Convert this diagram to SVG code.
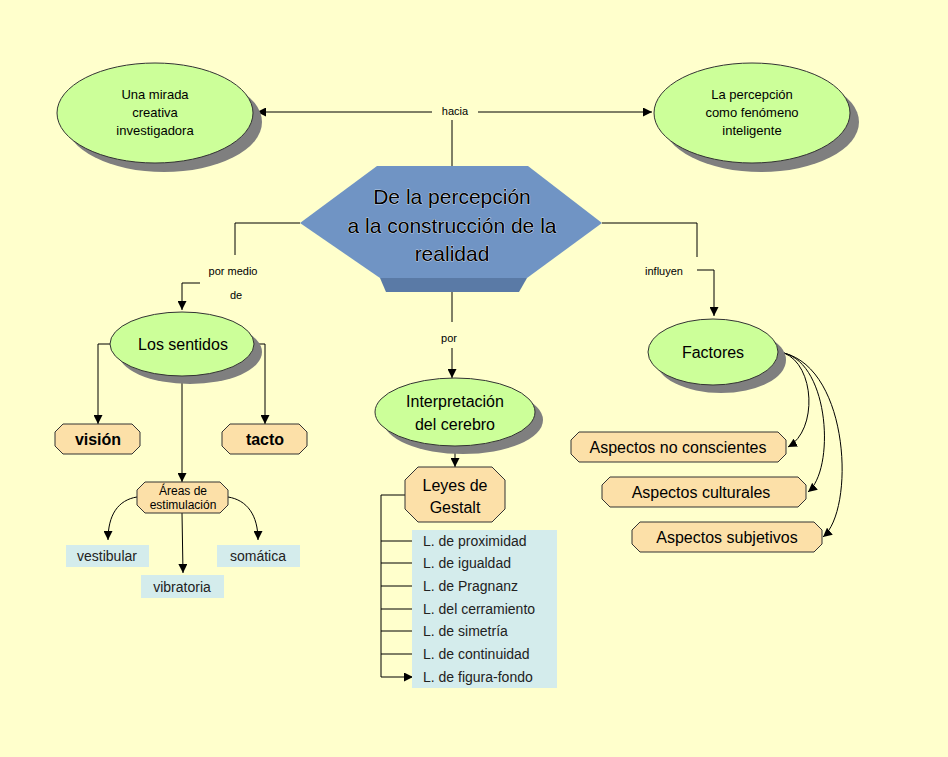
<svg xmlns="http://www.w3.org/2000/svg" width="948" height="757" viewBox="0 0 948 757">
<defs>
<marker id="ah" viewBox="0 0 10 10" refX="10" refY="5" markerWidth="9" markerHeight="9" orient="auto" markerUnits="userSpaceOnUse"><path d="M0,0 L10,5 L0,10 z" fill="#000"/></marker>
</defs>
<style>
text{font-family:"Liberation Sans",Arial,sans-serif;fill:#000;text-anchor:middle}
.ell{fill:#CCFF99;stroke:#333;stroke-width:1}
.sh{fill:#7F7F7F}
.oct{fill:#FCE0A8;stroke:#333;stroke-width:1}
.box{fill:#D4ECEC}
.c{fill:none;stroke:#000;stroke-width:1}
.a{marker-end:url(#ah)}
.lbl{font-size:11px}
.t13{font-size:13px}
.t16{font-size:16px}
.t15{font-size:15px}
.bl{font-size:14px;text-anchor:start;fill:#222}
.bx{font-size:14px;fill:#222}
</style>
<rect width="948" height="757" fill="#FFFFCC"/>
<g id="connectors">
<path class="c a" d="M432,112 H257"/>
<path class="c a" d="M478,112 H652"/>
<path class="c" d="M452,166 V120"/>
<path class="c" d="M300,223 H235 V255"/>
<path class="c a" d="M200,283 H182 V310"/>
<path class="c a" d="M110,344 H98 V424"/>
<path class="c a" d="M254,344 H265 V424"/>
<path class="c a" d="M182,377 V482"/>
<path class="c a" d="M137,497 C118,500 108,515 108,540"/>
<path class="c a" d="M182,513 L183,573"/>
<path class="c a" d="M228,497 C247,500 258,515 258,540"/>
<path class="c" d="M452,292 V322"/>
<path class="c a" d="M452,348 V378"/>
<path class="c a" d="M455,446 V467"/>
<path class="c" d="M405,495 H381 V677"/>
<path class="c a" d="M381,541 H413 M381,563 H413 M381,586 H413 M381,609 H413 M381,631 H413 M381,654 H413 M381,677 H413"/>
<path class="c" d="M602,223 H697 V257"/>
<path class="c a" d="M697,270 H714 V316"/>
<path class="c a" d="M784,353 C815,365 818,430 788,447"/>
<path class="c a" d="M784,353 C830,365 835,470 808,492"/>
<path class="c a" d="M784,353 C850,370 855,510 823,537"/>
</g>
<g id="labels">
<rect x="434" y="104" width="42" height="15" fill="#FFFFCC"/>
<text class="lbl" x="455" y="115">hacia</text>
<text class="lbl" x="233" y="275">por medio</text>
<text class="lbl" x="236" y="299">de</text>
<text class="lbl" x="449" y="342">por</text>
<text class="lbl" x="664" y="275">influyen</text>
</g>
<g id="n-mirada">
<ellipse class="sh" cx="164" cy="122" rx="98" ry="50"/>
<ellipse class="ell" cx="155" cy="113" rx="98" ry="50"/>
<text class="t13" x="155" y="99">Una mirada</text>
<text class="t13" x="155" y="117">creativa</text>
<text class="t13" x="155" y="135">investigadora</text>
</g>
<g id="n-fenomeno">
<ellipse class="sh" cx="761" cy="122" rx="98" ry="50"/>
<ellipse class="ell" cx="752" cy="113" rx="98" ry="50"/>
<text class="t13" x="752" y="99">La percepción</text>
<text class="t13" x="752" y="117">como fenómeno</text>
<text class="t13" x="752" y="135">inteligente</text>
</g>
<g id="n-central">
<polygon points="300,223 377,166 528,166 602,223 527,278 380,278" fill="#7094C4"/>
<polygon points="380,278 527,278 519,292 386,292" fill="#5A7AA6"/>
<text x="452" y="204" style="font-size:21px;stroke:#fff;stroke-width:0.6;paint-order:stroke">De la percepción</text>
<text x="452" y="233" style="font-size:21px;stroke:#fff;stroke-width:0.6;paint-order:stroke">a la construcción de la</text>
<text x="452" y="261" style="font-size:21px;stroke:#fff;stroke-width:0.6;paint-order:stroke">realidad</text>
</g>
<g id="n-sentidos">
<ellipse class="sh" cx="190" cy="352" rx="72" ry="32"/>
<ellipse class="ell" cx="182" cy="344" rx="72" ry="32"/>
<text class="t16" x="183" y="350">Los sentidos</text>
</g>
<g id="n-vision">
<polygon class="oct" points="63,424 132,424 140,432 140,446 132,454 63,454 55,446 55,432"/>
<text class="t16" x="98" y="445" font-weight="bold">visión</text>
</g>
<g id="n-tacto">
<polygon class="oct" points="230,424 299,424 307,432 307,446 299,454 230,454 222,446 222,432"/>
<text class="t16" x="265" y="445" font-weight="bold">tacto</text>
</g>
<g id="n-areas">
<polygon class="oct" points="145,482 220,482 228,490 228,505 220,513 145,513 137,505 137,490"/>
<text x="183" y="495" style="font-size:12px">Áreas de</text>
<text x="183" y="509" style="font-size:12px">estimulación</text>
</g>
<g id="n-vestibular"><rect class="box" x="66" y="545" width="83" height="22"/><text class="bx" x="107" y="561">vestibular</text></g>
<g id="n-vibratoria"><rect class="box" x="141" y="575" width="83" height="23"/><text class="bx" x="182" y="592">vibratoria</text></g>
<g id="n-somatica"><rect class="box" x="217" y="545" width="83" height="22"/><text class="bx" x="258" y="561">somática</text></g>
<g id="n-interpretacion">
<ellipse class="sh" cx="463" cy="420" rx="80" ry="34"/>
<ellipse class="ell" cx="455" cy="412" rx="80" ry="34"/>
<text class="t16" x="455" y="407">Interpretación</text>
<text class="t16" x="455" y="430">del cerebro</text>
</g>
<g id="n-leyes">
<polygon class="oct" points="418,467 492,467 505,480 505,509 492,522 418,522 405,509 405,480"/>
<text class="t16" x="455" y="491">Leyes de</text>
<text class="t16" x="455" y="513">Gestalt</text>
</g>
<g id="n-lista">
<rect class="box" x="412" y="530" width="145" height="158"/>
<text class="bl" x="423" y="546">L. de proximidad</text>
<text class="bl" x="423" y="568">L. de igualdad</text>
<text class="bl" x="423" y="591">L. de Pragnanz</text>
<text class="bl" x="423" y="614">L. del cerramiento</text>
<text class="bl" x="423" y="636">L. de simetría</text>
<text class="bl" x="423" y="659">L. de continuidad</text>
<text class="bl" x="423" y="682">L. de figura-fondo</text>
</g>
<g id="n-factores">
<ellipse class="sh" cx="721" cy="360" rx="65" ry="33"/>
<ellipse class="ell" cx="713" cy="352" rx="65" ry="33"/>
<text class="t16" x="713" y="358">Factores</text>
</g>
<g id="n-noconscientes">
<polygon class="oct" points="579,432 778,432 786,440 786,454 778,462 579,462 571,454 571,440"/>
<text class="t16" x="678" y="453">Aspectos no conscientes</text>
</g>
<g id="n-culturales">
<polygon class="oct" points="610,477 798,477 806,485 806,499 798,507 610,507 602,499 602,485"/>
<text class="t16" x="701" y="498">Aspectos culturales</text>
</g>
<g id="n-subjetivos">
<polygon class="oct" points="640,522 814,522 822,530 822,544 814,552 640,552 632,544 632,530"/>
<text class="t16" x="727" y="543">Aspectos subjetivos</text>
</g>
</svg>
